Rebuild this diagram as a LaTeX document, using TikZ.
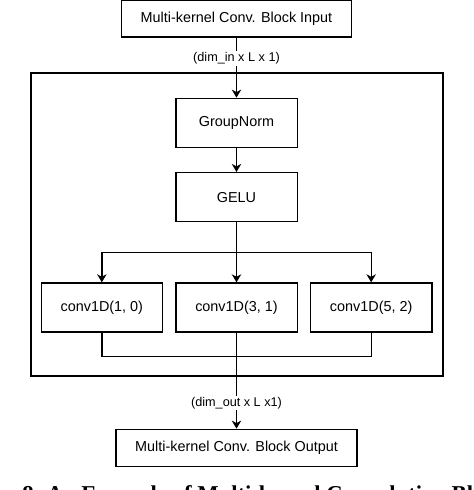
\documentclass[tikz,border=0pt]{standalone}
\usepackage{fontspec}
\setmainfont{Liberation Sans}
\newfontfamily\figcapfont{Liberation Serif}
\usetikzlibrary{positioning, arrows.meta}

\begin{document}
\begin{tikzpicture}[x=0.75pt, y=-0.75pt,
  block/.style={draw, line width=1pt, rectangle, minimum width=91pt, minimum height=36.75pt, inner sep=0pt, align=center, font=\fontsize{10.8}{13}\selectfont},
  flow/.style={-{Stealth[length=6pt, width=7pt, inset=1.8pt]}, line width=1pt},
  dimlabel/.style={fill=white, inner sep=1pt, font=\fontsize{9.5}{11}\selectfont}]
\useasboundingbox (0,0) rectangle (474,490);

\node (input) [block, minimum width=172.5pt, minimum height=27.75pt] at (236.5,18.5) {Multi-kernel Conv. Block Input};
\node (norm) [block, below=45pt of input] {GroupNorm};
\node (gelu) [block, below=18pt of norm] {GELU};
\node (conv3) [block, below=45pt of gelu] {conv1D(3, 1)};
\node (conv1) [block, left=9pt of conv3] {conv1D(1, 0)};
\node (conv5) [block, right=9pt of conv3] {conv1D(5, 2)};
\node (output) [block, minimum width=180.75pt, minimum height=27.75pt, below=72pt of conv3] {Multi-kernel Conv. Block Output};

% block frame
\draw[line width=1pt] (31,73) rectangle (443,376);

\coordinate (split) at ([yshift=-22.5pt]gelu.south);
\coordinate (merge) at ([yshift=-18pt]conv3.south);

\draw[flow] (input) -- node[dimlabel, pos=0.35] {(dim\_in x L x 1)} (norm);
\draw[flow] (norm) -- (gelu);
\draw[flow] (gelu) -- (conv3);
\draw[flow] (split) -| (conv1);
\draw[flow] (split) -| (conv5);
\draw[line width=1pt] (conv1) |- (merge) -| (conv5);
\draw[flow] (conv3) -- node[dimlabel, pos=0.73] {(dim\_out x L x1)} (output);

% caption, cut by the page edge
\begin{scope}
\clip (0,0) rectangle (474,490);
\node (caption) [anchor=base west, inner sep=0pt, font=\figcapfont\bfseries\fontsize{17}{20}\selectfont] at (22,501) {8. An Example of Multi-kernel Convolution Block};
\end{scope}
\end{tikzpicture}
\end{document}
